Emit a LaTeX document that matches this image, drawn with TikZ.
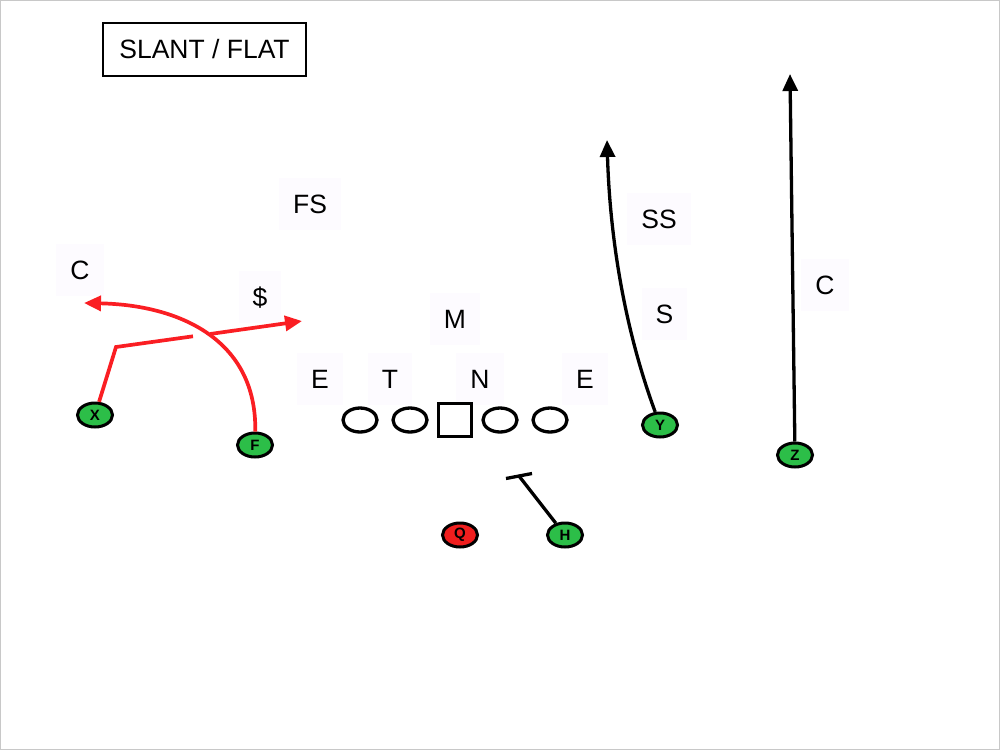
\documentclass[tikz,border=0pt]{standalone}
\usepackage{fontspec}
\setmainfont{Liberation Sans}
\usetikzlibrary{shapes.geometric,arrows.meta}
\definecolor{labelbg}{RGB}{253,251,255}
\definecolor{routered}{RGB}{250,30,35}
\definecolor{playergreen}{RGB}{44,190,72}
\definecolor{qbred}{RGB}{240,30,30}
\definecolor{framegray}{RGB}{200,200,200}
\tikzset{
  deflabel/.style={fill=labelbg, inner xsep=14pt, inner ysep=0pt, minimum height=52pt,
    text height=19pt, text depth=0pt, font=\fontsize{26.5}{26.5}\selectfont},
  player/.style={ellipse, draw=black, line width=3pt, fill=playergreen, minimum width=35pt,
    minimum height=24pt, inner sep=0pt, font=\fontsize{15}{15}\selectfont\bfseries},
  lineman/.style={ellipse, draw=black, line width=3.3pt, minimum width=34pt, minimum height=24pt, inner sep=0pt},
  center/.style={rectangle, draw=black, line width=3.3pt, minimum size=33pt, inner sep=0pt},
  redroute/.style={draw=routered, line width=3.7pt},
  blackroute/.style={draw=black, line width=3.3pt},
  tip/.style={-{Triangle[length=17pt,width=15pt]}},
}
\begin{document}
\begin{tikzpicture}[x=1pt,y=-1pt]
\useasboundingbox (0,0) rectangle (1000,750);
\draw[framegray, line width=1pt] (0.5,0.5) rectangle (999.5,749.5);

% title
\node[draw=black, line width=1.5pt, minimum width=203pt, minimum height=53pt, inner sep=0pt,
  font=\fontsize{26.5}{26.5}\selectfont] (title) at (204.5,49.5) {SLANT / FLAT};

% defenders
\node[deflabel] (FS) at (310,204) {FS};
\node[deflabel] (CL) at (80,270) {C};
\node[deflabel] (DOL) at (260,297) {\$};
\node[deflabel] (M) at (455,319) {M};
\node[deflabel] (EL) at (320,379) {E};
\node[deflabel] (T) at (390,379) {T};
\node[deflabel] (N) at (480,379) {N};
\node[deflabel] (ER) at (585,379) {E};
\node[deflabel] (SS) at (659,219) {SS};
\node[deflabel] (S) at (664.5,314) {S};
\node[deflabel] (CR) at (825,285) {C};

% offensive line
\node[lineman] (LT) at (360,420) {};
\node[lineman] (LG) at (410,420) {};
\node[center] (OC) at (455,420) {};
\node[lineman] (RG) at (500,420) {};
\node[lineman] (RT) at (550,420) {};

% skill players
\node[player] (X) at (95,415) {X};
\node[player] (F) at (255,445) {F};
\node[player, fill=qbred] (Q) at (460,535) {Q};
\node[player] (H) at (565,535) {H};
\node[player] (Y) at (660,425) {Y};
\node[player] (Z) at (795,455) {Z};

% route coordinates
\coordinate (xbreak) at (116,347);
\coordinate (xgapA) at (193,336.3);
\coordinate (xgapB) at (210,334);
\coordinate (xend) at (302,321);
\coordinate (fend) at (84,303);
\coordinate (yend) at (607,140);
\coordinate (zend) at (790,74);
\coordinate (hblock) at (519,476);
\coordinate (hbarA) at (506,478.5);
\coordinate (hbarB) at (532,473.5);

% routes
\draw[redroute] (X) -- (xbreak) -- (xgapA);
\draw[redroute, tip] (xgapB) -- (xend);
\draw[redroute, tip] (F) .. controls (257,340) and (180,305) .. (fend);
\draw[blackroute, tip] (Y) .. controls (625,330) and (610,240) .. (yend);
\draw[blackroute, tip] (Z) -- (zend);
\draw[blackroute] (H) -- (hblock);
\draw[blackroute] (hbarA) -- (hbarB);
\end{tikzpicture}
\end{document}
